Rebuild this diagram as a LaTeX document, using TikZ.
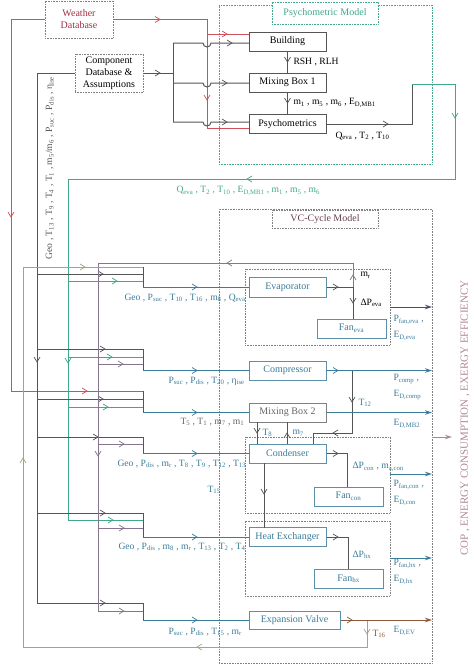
\documentclass[tikz,border=0pt]{standalone}
\usepackage{fontspec}
\setmainfont{Liberation Serif}
\usetikzlibrary{arrows.meta}
\definecolor{cred}{HTML}{D0505A}
\definecolor{cdk}{HTML}{555555}
\definecolor{cgr}{HTML}{3FA88A}
\definecolor{cpu}{HTML}{85758F}
\definecolor{ctan}{HTML}{A8A088}
\definecolor{cblu}{HTML}{3A7C9A}
\definecolor{cbox}{HTML}{5E8FA8}
\definecolor{cwr}{HTML}{A0303F}
\definecolor{cvc}{HTML}{6A4050}
\definecolor{cpk}{HTML}{B08890}
\definecolor{cbr}{HTML}{8A5A3A}
\definecolor{cnav}{HTML}{4A4A72}
\newcommand\sbs[1]{\textsubscript{#1}}
\newcommand\chv[4]{\pic[color=#1,rotate=#2] at (#3,#4) {chev};}
\tikzset{chev/.pic={\draw[line width=0.7pt] (-5,-3) -- (0,0) -- (-5,3);}}
\begin{document}
\begin{tikzpicture}[x=1pt,y=-1pt, line width=1pt,
  every node/.style={font=\fontsize{10}{12}\selectfont, inner sep=0pt},
  pbox/.style={draw=cdk, fill=white, minimum width=77pt, minimum height=19pt},
  vbox/.style={draw=cbox, text=cblu, fill=white, minimum width=77pt, minimum height=19pt},
  fbox/.style={draw=cbox, text=cblu, fill=white, minimum width=69pt, minimum height=19pt},
  dbox/.style={draw=gray, densely dotted, line width=0.6pt},
  lab/.style={font=\fontsize{9.6}{10}\selectfont, text=cblu, anchor=west},
  blab/.style={font=\fontsize{9.6}{10}\selectfont, text=black, anchor=west},
  oarr/.style={-{Stealth[length=7pt,width=4.5pt]}}]
\useasboundingbox (0,0) rectangle (474,665);
% regions
\node[dbox, draw=cgr, minimum width=213pt, minimum height=159pt] (psyreg) at (325.5,84.5) {};
\node[dbox, draw=cgr, fill=white, text=cgr, minimum width=106pt, minimum height=22pt] (psytitle) at (325,13) {Psychometric Model};
\node[dbox, minimum width=213pt, minimum height=454pt] (vcreg) at (325.5,436) {};
\node[dbox, fill=white, text=cvc, minimum width=106pt, minimum height=18pt] (vctitle) at (325,219) {VC-Cycle Model};
\node[dbox, minimum width=145pt, minimum height=76pt] (evasub) at (317.5,307) {};
\node[dbox, minimum width=145pt, minimum height=76pt] (consub) at (317.5,475) {};
\node[dbox, minimum width=145pt, minimum height=75pt] (hxsub) at (317.5,558.5) {};
% data boxes
\node[dbox, fill=white, text=cwr, minimum width=68pt, minimum height=37pt, align=center] (weather) at (79,19.5) {Weather\\Database};
\node[dbox, fill=white, text=black, minimum width=68pt, minimum height=38pt, align=center] (compdb) at (109,73) {Component\\Database \&\\Assumptions};
% psychometric boxes
\node[pbox] (building) at (287.5,41.5) {Building};
\node[pbox] (mb1) at (287.5,82.5) {Mixing Box 1};
\node[pbox] (psych) at (287.5,124) {Psychometrics};
% VC boxes
\node[vbox, minimum height=20pt] (evap) at (287.5,287) {Evaporator};
\node[fbox] (faneva) at (351.5,328.5) {Fan\sbs{eva}};
\node[vbox] (comp) at (287.5,370.5) {Compressor};
\node[vbox, draw=gray, text=gray!80!black] (mb2) at (287.5,412.5) {Mixing Box 2};
\node[vbox] (cond) at (287.5,453.5) {Condenser};
\node[fbox] (fancon) at (348.5,496.5) {Fan\sbs{con}};
\node[vbox] (hx) at (287.5,537) {Heat Exchanger};
\node[fbox] (fanhx) at (348.5,578.5) {Fan\sbs{hx}};
\node[vbox, minimum width=91pt, minimum height=18pt] (ev) at (294.5,620) {Expansion Valve};
% red weather lines
\draw[cred] (weather.west) -- (11,19.5) -- (11,391) -- (143,391);
\draw[cred] (weather.east) -- (207,19.5) -- (207,128) -- (249,128);
\draw[cred] (207,34) -- (249,34);
\chv{cred}{0}{160}{19.5}\chv{cred}{0}{227}{34}\chv{cred}{-90}{207}{100}
\chv{cred}{-90}{11}{217}\chv{cred}{0}{87}{391}
% component database bus (psychometric)
\draw[cdk] (compdb.east) -- (173,73);
\draw[cdk] (173,43) -- (173,122);
\draw[cdk] (173,43) -- (203,43) arc[start angle=180,end angle=0,radius=4] -- (249,43);
\draw[cdk] (173,83) -- (203,83) arc[start angle=180,end angle=0,radius=4] -- (249,83);
\draw[cdk] (173,122) -- (203,122) arc[start angle=180,end angle=0,radius=4] -- (249,122);
\chv{cdk}{0}{160}{73}\chv{cdk}{0}{232}{43}\chv{cdk}{0}{227}{83}\chv{cdk}{0}{227}{122}
% psychometric internals
\draw[cdk] (building.south) -- (mb1.north);
\draw[cdk] (mb1.south) -- (psych.north);
\chv{cdk}{-90}{287.5}{62}\chv{cdk}{-90}{287.5}{103}
\node[blab] at (293,62) {RSH , RLH};
\node[blab] at (293,103) {m\sbs{1} , m\sbs{5} , m\sbs{6} , E\sbs{D,MB1}};
\draw[cdk] (psych.east) -- (412,124) -- (412,84);
\chv{cdk}{0}{388}{124}
\node[blab] at (335,136) {Q\sbs{eva} , T\sbs{2} , T\sbs{10}};
\draw[cgr] (412,84) -- (455,84) -- (455,179) -- (68,179) -- (68,520);
\chv{cgr}{-90}{455}{118}\chv{cgr}{180}{247}{179}\chv{cgr}{-90}{68}{363}
\node[lab, text=cgr] at (176,191) {Q\sbs{eva} , T\sbs{2} , T\sbs{10} , E\sbs{D,MB1} , m\sbs{1} , m\sbs{5} , m\sbs{6}};
% green branches
\draw[cgr] (68,281) -- (143,281); \draw[cgr] (68,357) -- (143,357);
\draw[cgr] (68,407) -- (143,407); \draw[cgr] (68,520) -- (143,520);
\chv{cgr}{0}{117}{281}\chv{cgr}{0}{112}{357}\chv{cgr}{0}{108}{407}\chv{cgr}{0}{113}{520}
% dark bus
\draw[cdk] (compdb.west) -- (37,73) -- (37,603) -- (143,603);
\foreach \yy in {274,349,399,437,513} {\draw[cdk] (37,\yy) -- (143,\yy);}
\chv{cdk}{-90}{37}{362}
\chv{cdk}{0}{103}{274}\chv{cdk}{0}{105}{349}\chv{cdk}{0}{103}{399}
\chv{cdk}{0}{98}{437}\chv{cdk}{0}{105}{513}\chv{cdk}{0}{105}{603}
\node[rotate=90, text=cdk, font=\fontsize{9.6}{10}\selectfont] at (50,168) {Geo , T\sbs{13} , T\sbs{9} , T\sbs{4} , T\sbs{1} , m\sbs{5}/m\sbs{6} , P\sbs{suc} , P\sbs{dis} , η\sbs{ise}};
% purple m_r bus
\draw[cpu] (353,263) -- (98,263) -- (98,611) -- (143,611);
\foreach \yy in {364,444,528} {\draw[cpu] (98,\yy) -- (143,\yy);}
\chv{cpu}{180}{227}{263}\chv{cpu}{-90}{98}{456}
\chv{cpu}{0}{123}{364}\chv{cpu}{0}{124}{444}\chv{cpu}{0}{124}{528}\chv{cpu}{0}{124}{611}
% tan T16 loop
\draw[ctan] (367,621) -- (367,647) -- (23,647) -- (23,267) -- (143,267);
\chv{ctan}{-90}{367}{634}\chv{ctan}{180}{197}{647}\chv{ctan}{90}{23}{458}\chv{ctan}{0}{85}{267}
\node[blab, text=cbr] at (372,634) {T\sbs{16}};
% input brackets
\draw[cdk] (143,267) -- (143,287); \draw[cblu] (143,287) -- (evap.west);
\draw[cdk] (143,349) -- (143,370.5); \draw[cblu] (143,370.5) -- (comp.west);
\draw[cdk] (143,391) -- (143,412.5); \draw[cblu] (143,412.5) -- (mb2.west);
\draw[cdk] (143,437) -- (143,453.5); \draw[cblu] (143,453.5) -- (cond.west);
\draw[cdk] (143,513) -- (143,537); \draw[cblu] (143,537) -- (hx.west);
\draw[cdk] (143,603) -- (143,620); \draw[cblu] (143,620) -- (ev.west);
\foreach \yy in {287,370.5,412.5,453.5,537,620} {\chv{cblu}{0}{197}{\yy}}
\node[lab] at (124,298) {Geo , P\sbs{suc} , T\sbs{10} , T\sbs{16} , m\sbs{8} , Q\sbs{eva}};
\node[lab] at (168,381) {P\sbs{suc} , P\sbs{dis} , T\sbs{20} , η\sbs{ise}};
\node[lab, text=gray!80!black] at (180,422) {T\sbs{5} , T\sbs{1} , m\sbs{7} , m\sbs{1}};
\node[lab] at (117,464) {Geo , P\sbs{dis} , m\sbs{r} , T\sbs{8} , T\sbs{9} , T\sbs{12} , T\sbs{13}};
\node[lab] at (118,547) {Geo , P\sbs{dis} , m\sbs{8} , m\sbs{r} , T\sbs{13} , T\sbs{2} , T\sbs{4}};
\node[lab] at (168,632) {P\sbs{suc} , P\sbs{dis} , T\sbs{15} , m\sbs{r}};
% evaporator internals
\draw[cdk] (evap.east) -- (353,287);
\draw[cpu] (353,263) -- (353,287);
\draw[cdk] (353,287) -- (353,319);
\chv{cdk}{0}{338}{287}\chv{cpu}{90}{353}{275}\chv{cdk}{-90}{353}{303}
\node[blab] at (360,275) {m\sbs{r}};
\node[blab] at (360,303) {ΔP\sbs{eva}};
\draw[cnav, oarr] (390,307) -- (432,307);
\node[lab] at (393,320) {P\sbs{fan,eva} ,};
\node[lab] at (393,336) {E\sbs{D,eva}};
% compressor
\draw[cblu, oarr] (comp.east) -- (432,370.5);
\chv{cblu}{0}{338}{370.5}
\draw[cdk] (352,370.5) -- (352,433) -- (313,433) -- (313,444);
\chv{cdk}{-90}{352}{402}\chv{cdk}{180}{333}{433}
\node[blab, text=cblu] at (358,403) {T\sbs{12}};
\node[lab] at (393,379) {P\sbs{comp} ,};
\node[lab] at (393,395) {E\sbs{D,comp}};
% mixing box 2
\draw[cblu, oarr] (mb2.east) -- (432,412.5);
\node[lab] at (393,424) {E\sbs{D,MB2}};
\draw[cdk] (257,422) -- (257,444); \chv{cdk}{-90}{257}{433}
\node[blab, text=cblu] at (262,433) {T\sbs{8}};
\draw[cdk] (287,444) -- (287,422); \chv{cdk}{90}{287}{433}
\node[blab, text=cblu] at (292,433) {m\sbs{7}};
% condenser
\draw[cdk] (cond.east) -- (347,453.5) -- (347,487);
\chv{cdk}{0}{338}{453.5}
\node[lab] at (352,467) {ΔP\sbs{con} , m\sbs{a,con}};
\draw[cblu, oarr] (390,474) -- (432,474);
\node[lab] at (393,485) {P\sbs{fan,con} ,};
\node[lab] at (393,501) {E\sbs{D,con}};
\draw[cdk] (264,463) -- (264,528); \chv{cdk}{-90}{264}{494}
\node[lab] at (207,490) {T\sbs{15}};
% heat exchanger
\draw[cdk] (hx.east) -- (348,537) -- (348,569);
\chv{cdk}{0}{338}{537}
\node[lab] at (352,555) {ΔP\sbs{hx}};
\draw[cblu, oarr] (390,558) -- (432,558);
\node[lab] at (393,564) {P\sbs{fan,hx} ,};
\node[lab] at (393,580) {E\sbs{D,hx}};
% expansion valve
\draw[cbr, oarr] (ev.east) -- (432,620);
\chv{cbr}{0}{352}{620}
\node[lab] at (393,631) {E\sbs{D,EV}};
% final output
\draw[cpk, oarr] (432,437) -- (452,437);
\node[rotate=90, text=cpk, font=\fontsize{11}{13}\selectfont] at (465,418) {COP , ENERGY CONSUMPTION , EXERGY EFFICIENCY};
\end{tikzpicture}
\end{document}
